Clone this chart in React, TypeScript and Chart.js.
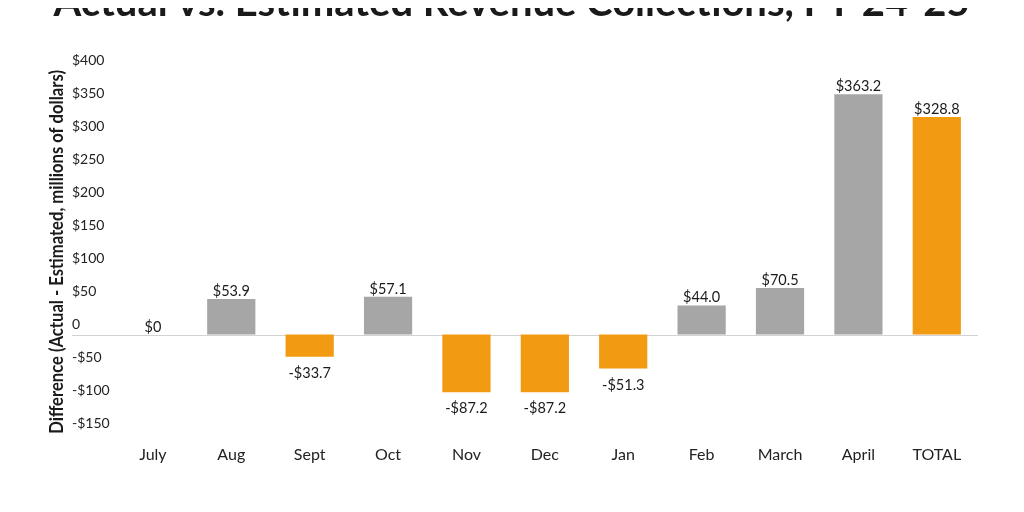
import { useEffect, useRef } from "react";
import { Chart, registerables } from "chart.js";

Chart.register(...registerables);

// Monthly difference between actual and estimated revenue, millions of dollars
const months = ["July", "Aug", "Sept", "Oct", "Nov", "Dec", "Jan", "Feb", "March", "April", "TOTAL"];
const differences = [0, 53.9, -33.7, 57.1, -87.2, -87.2, -51.3, 44.0, 70.5, 363.2, 328.8];

// Value axis range and step
const yMin = -150;
const yMax = 400;
const yStep = 50;

const chartTitle = "Actual vs. Estimated Revenue Collections, FY 24-25";
const yAxisTitle = "Difference (Actual - Estimated, millions of dollars)";

const GRAY = "#a6a6a6";
const ORANGE = "#f29a12";
const INK = "#1a1a1a";
const FONT = "Lato, 'Open Sans', sans-serif";

const formatValue = (v: number) =>
  v === 0 ? "$0" : (v < 0 ? "-$" : "$") + Math.abs(v).toFixed(1);
const formatTick = (v: number) =>
  v === 0 ? "0" : (v < 0 ? "-$" : "$") + Math.abs(v);

// Zero baseline (running under the tick labels) and value labels on each bar
const baselineAndLabels = {
  id: "baselineAndLabels",
  beforeDatasetsDraw(chart: any) {
    const { ctx, chartArea, scales } = chart;
    const yScale = scales.y;
    const y0 = Math.round(yScale.getPixelForValue(0)) + 0.5;
    ctx.save();
    ctx.strokeStyle = "#d2d2d2";
    ctx.lineWidth = 1;
    ctx.beginPath();
    ctx.moveTo(yScale.left, y0);
    ctx.lineTo(chartArea.right + 2, y0);
    ctx.stroke();
    ctx.restore();
  },
  afterDatasetsDraw(chart: any) {
    const { ctx } = chart;
    const meta = chart.getDatasetMeta(0);
    ctx.save();
    ctx.font = `14.5px ${FONT}`;
    ctx.fillStyle = INK;
    ctx.textAlign = "center";
    ctx.textBaseline = "alphabetic";
    meta.data.forEach((bar: any, i: number) => {
      const v = differences[i];
      const { x, y } = bar.getProps(["x", "y"], true);
      const text = formatValue(v);
      if (v < 0) ctx.fillText(text, x, y + 21);
      else ctx.fillText(text, x, y - 3);
    });
    ctx.restore();
  },
};

export default function App() {
  const canvasRef = useRef<HTMLCanvasElement | null>(null);

  useEffect(() => {
    if (!canvasRef.current) return;
    const lastIndex = differences.length - 1;
    const chart = new Chart(canvasRef.current, {
      type: "bar",
      data: {
        labels: months,
        datasets: [
          {
            data: differences,
            backgroundColor: differences.map((v, i) =>
              v < 0 || i === lastIndex ? ORANGE : GRAY
            ),
            borderWidth: 0,
            categoryPercentage: 1,
            barPercentage: 0.615,
          },
        ],
      },
      options: {
        responsive: false,
        animation: false,
        layout: { padding: { left: 39, right: 40, top: 0, bottom: 32 } },
        plugins: {
          legend: { display: false },
          tooltip: { enabled: false },
          title: {
            display: true,
            text: chartTitle,
            color: INK,
            font: { family: FONT, size: 40, weight: "bold", lineHeight: 1.2 },
            padding: { top: 0, bottom: 43 },
          },
          subtitle: {
            display: true,
            position: "left",
            align: "start",
            fullSize: false,
            text: yAxisTitle,
            color: INK,
            font: { family: FONT, size: 18, weight: "bold", lineHeight: 1.15 },
            padding: { top: 0, bottom: 4.3 },
          },
        },
        scales: {
          x: {
            grid: { display: false },
            border: { display: false },
            ticks: {
              color: "#222",
              font: { family: FONT, size: 16 },
              padding: 3,
            },
          },
          y: {
            min: yMin,
            max: yMax,
            grid: { display: false },
            border: { display: false },
            ticks: {
              stepSize: yStep,
              color: "#222",
              font: { family: FONT, size: 14 },
              crossAlign: "far",
              labelOffset: -10,
              padding: -2,
              callback: (value: any) => formatTick(Number(value)),
            },
          },
        },
      },
      plugins: [baselineAndLabels],
    });
    return () => chart.destroy();
  }, []);

  return (
    <div style={{ marginTop: -29 }}>
      <canvas ref={canvasRef} width={1008} height={520} />
    </div>
  );
}
